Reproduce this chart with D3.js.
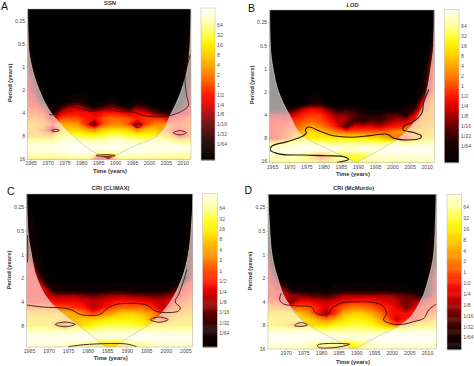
<!DOCTYPE html>
<html>
<head>
<meta charset="utf-8">
<script src="https://cdn.jsdelivr.net/npm/d3@7"></script>
<style>
	body { margin: 0; background: #fff; }
	svg { display: block; font-family: "Liberation Sans", Arial, sans-serif; }
</style>
</head>
<body>
<div id="chart"></div>
<script>
"use strict";
// log2(period) of each grid row, top to bottom
const gridLogPeriods = [-2.6, 0, 1, 1.5, 1.75, 2, 2.25, 2.5, 2.75, 3, 3.25, 3.5, 3.75, 4.1];
const gridYears = [1964, 1966.5, 1969, 1971.5, 1974, 1976.5, 1979, 1981.5, 1984, 1986.5, 1989, 1991.5, 1994, 1996.5, 1999, 2001.5, 2004, 2006.5, 2009, 2012.5];
const gridYearsC = [1964, 1966.5, 1969, 1971.5, 1974, 1976.5, 1979, 1981.5, 1984, 1986.5, 1989, 1991.5, 1994, 1996.5, 1999, 2001.5, 2004, 2007.5];

// log2(power)
const powerSSN = [
	[-8,-8,-8,-8,-8,-8,-8,-8,-8,-8,-8,-8,-8,-8,-8,-8,-8,-8,-8,-8],
	[-3,-8,-8,-8,-8,-8,-8,-8,-8,-8,-8,-8,-8,-8,-8,-8,-8,-8,-8,-5],
	[-2,-4,-8,-8,-8,-8,-8,-8,-8,-8,-8,-8,-8,-8,-8,-8,-8,-8,-8,-3],
	[-1.5,-2,-7,-8,-8,-6.5,-6,-7,-8,-7.5,-7,-8,-8,-7,-8,-8,-8,-8,-7,-2.5],
	[-1,-1,-3,-7,-5.5,-3,-2.5,-4.5,-6,-4.5,-3.5,-5,-7,-4,-5,-7,-8,-8,-6,-2],
	[0,0,-1,-6,-2.5,-1.5,-1.5,-1.5,-2,-1.5,-1.2,-1.5,-2.5,-1.5,-2,-4,-5,-6,-3,-1.5],
	[1,1,0.5,-3,0,0,0,-1,-1.5,0,0.5,0.5,0,-1,-0.5,-0.5,-1,-2,-1,0],
	[2,2,1.5,-0.5,2,2,1.5,-1,-4,0,1,1,0,-4,-0.5,1,1.5,0.5,0,0.5],
	[2,2,0,-5,2.5,3,3,2,1.5,3,3.5,3.5,3,1.5,2.5,3,2,0,-1,0.5],
	[2.5,2.5,2,2,4.5,5,5,4.5,4.5,5,5.5,5.5,5,4.5,4.5,4.5,3,2,-2,1],
	[5,5,5,5,6,6.5,6.5,6.5,6.5,6.5,7,7,6.5,6.5,6,6,6,5,4,4],
	[6.5,6.5,6.5,6.5,7,7.5,7.6,7.6,7.6,7.6,7.6,7.6,7.6,7.5,7,7,7,7,7,6.5],
	[5.5,5.5,5.5,5.5,6,6.5,6.5,6.5,6.5,6,6.5,6.5,6,6,6,6,5.5,5.5,5.5,5.5],
	[3,3,3,3,3,3,3,3.5,-6,-8,-6,3,3,3,3,3,3,3,3,3]
];
const powerLOD = [
	[-8,-8,-8,-8,-8,-8,-8,-8,-8,-8,-8,-8,-8,-8,-8,-8,-8,-8,-8,-8],
	[-8,-8,-8,-8,-8,-8,-8,-8,-8,-8,-8,-8,-8,-8,-8,-8,-8,-8,-8,0],
	[-6,-8,-8,-8,-8,-8,-8,-8,-8,-8,-8,-8,-8,-8,-8,-8,-8,-8,-6,1],
	[-7,-7,-8,-8,-8,-6,-6,-8,-8,-8,-8,-8,-8,-8,-8,-8,-8,-7,-1,2],
	[-7,-6,-6,-5,-2.5,-1.5,-2,-4,-6,-5.5,-6,-7,-8,-8,-8,-7,-6,-5,0,2],
	[-3,-2.5,-3,-2,-1,-0.5,-0.5,-2,-3.5,-3.5,-4.5,-5.5,-6,-5.5,-4.5,-4.5,-6,-2,1,2],
	[-1.5,-1.5,-1.5,-0.5,0,0.5,0,-1,-2.5,-3,-5,-5.5,-4.5,-5,-3.5,-2.5,-2.5,-1,1.5,2],
	[-1.5,-1,-0.5,0,1,2,1,0,-1.5,-5,-2,-2,-2,-2.5,-1.5,-1,-0.5,1,2,2.5],
	[-1,-1,0,1,2.5,3.5,3,2,1,0.5,0.5,0.5,0.5,0.5,1,1.5,2,2,2.5,3],
	[-1.5,-1.5,0,2,3.5,4,4,4,4,4,4,4,3.5,3,2,0.5,-1,1,3,3.5],
	[4,4,5,5.5,6,6,6.5,6,6,6,6,6,6,6,6,6,5,5.5,6,6],
	[6.5,6.5,7,7,7,7.5,7.5,7.5,7.5,7,7,7.5,7.5,7.5,7.5,7.5,7.5,7.5,7.5,7],
	[5.5,5.5,5.5,5.5,4.5,2,-1,1,4.5,5,5,5,5.5,6,6,6,6,6,6,6],
	[4.5,4.5,4.5,4.5,4.5,4,3.5,3.5,3.5,3.5,4,4,4.5,4.5,4.5,4.5,5,5,5,5]
];
const powerClimax = [
	[-8,-8,-8,-8,-8,-8,-8,-8,-8,-8,-8,-8,-8,-8,-8,-8,-8,-8],
	[-2,-7,-8,-8,-8,-8,-8,-8,-8,-8,-8,-8,-8,-8,-8,-8,-8,-3],
	[-1.5,-1.5,-7,-8,-8,-8,-8,-8,-8,-8,-8,-8,-8,-8,-8,-8,-8,-1],
	[-1.5,-1.5,-2,-6.5,-7,-6.5,-7,-7,-7,-6.5,-6.5,-7,-7,-7,-7,-6,-2,0],
	[-1.5,-1.5,-2,-3,-3,-3,-3.5,-4,-3.5,-3,-3,-3.5,-3.5,-4,-4,-3,-1,0.5],
	[-1,-1,-1,-1.5,-1.5,-1.5,-2,-2.5,-2,-1.5,-1,-1,-1.5,-2,-2.5,-1.5,0,1],
	[0.5,0.5,0.5,0,0,-0.5,-1,-3,-1.5,0,0.5,0.5,0.5,-0.5,-3,-0.5,0.5,1.5],
	[2.5,2.5,2.5,2.5,2.5,2,1,-0.5,1,2,3,3,2.5,1.5,-0.5,1,2,2.5],
	[3,3,3,3,2,2.5,3,3,3.5,4,4,4,3.5,2,-1,2,3,3],
	[3.5,3.5,3.5,2,-1,2,3.5,4.5,5,5,5,5,4.5,3.5,3,3.5,3.5,3.5],
	[5.5,5.5,5.5,5.5,5.5,5.5,5.5,6,6.5,6.5,6.5,6.5,6,5.5,5.5,5.5,5.5,5.5],
	[7,7,7,7,7,7.5,7.5,7.5,7.5,7.5,7.5,7.5,7.5,7.5,7,7,7,7],
	[6.5,6.5,6.5,6.5,6,5.5,5,4.5,4,4,4,4.5,5,5.5,6,6,6,6],
	[5,5,5,5,4.5,3.5,2.5,2,1.5,1.5,1.5,2,3,4,5,5,5,5]
];
const powerMcMurdo = [
	[-8,-8,-8,-8,-8,-8,-8,-8,-8,-8,-8,-8,-8,-8,-8,-8,-8,-8,-8,-8],
	[-2,-8,-8,-8,-8,-8,-8,-8,-8,-8,-8,-8,-8,-8,-8,-8,-8,-8,-8,-6],
	[-1.5,-3,-8,-8,-8,-8,-8,-8,-8,-8,-8,-8,-8,-8,-8,-8,-8,-8,-8,-2],
	[-1.5,-1.5,-3,-6,-7,-7,-7,-7.5,-7,-6.5,-6.5,-6.5,-6.5,-6.5,-7,-7,-7,-7.5,-7.5,-2],
	[-1.5,-1.5,-2,-3,-3.5,-4,-4.5,-5,-4,-3,-3,-3,-3,-3,-3,-3.5,-4,-5,-6,-1.5],
	[-0.5,-0.5,-1,-4,-1.5,-1.5,-2,-2.5,-2,-1.5,-1,-1,-1,-1.5,-2,-2.5,-4,-3,-2.5,-1],
	[1.5,1.5,1,0,0.5,0,-1,-2,-1,0.5,1,1,0.5,-0.5,-1,-2,-4,-2,-1,-0.5],
	[3,3,3,3,2.5,1.5,-1,-3.5,-0.5,2,3,3,2,1,-1,-1.5,-1.5,-1,-0.5,0.5],
	[3.5,3.5,3.5,3.5,3.5,3,2,1,2,3.5,4,4,3.5,2,0,-2.5,-1,-1.5,1,2.5],
	[3.5,3.5,3,1.5,0,3,3.5,3.5,4.5,4.5,5,5,4.5,3.5,2,0,1,3,3.5,4],
	[6,6,6,6,6,6,6,6,6,6,6,6,6,6,6,6,6,6,6,6],
	[7.5,7.5,7.5,7.5,7.5,7.5,7.5,7.5,7.5,7.5,7.5,7.5,7.5,7.5,7.5,7.5,7.5,7.5,7.5,7.5],
	[6.5,6.5,6.5,6.5,6.5,6,5,5,5,5,5,5.5,6,6.5,6.5,6.5,6.5,6.5,6.5,6.5],
	[5,5,5,5,4.5,3,2,1,1,1.5,3,4,4.5,5,5,5,5,5,5,5]
];

// cone of influence: year at each of these log2(period) values
const coiLogPeriods = [-2.6, -1, 0, 1, 2, 3, 3.5, 4.05];
const coiLeftSSN = [1964.1, 1964.3, 1965.3, 1967.5, 1971, 1977.5, 1981.5, 1988];
const coiRightSSN = [2012.5, 2012.2, 2011.5, 2009.7, 2006.7, 2002.5, 1995, 1988];
const coiLeftLOD = [1964.3, 1964.5, 1965.3, 1966.9, 1970.1, 1974.8, 1981.5, 1989.5];
const coiRightLOD = [2012.2, 2012, 2011.2, 2010, 2007.7, 2001.8, 1996.5, 1989.5];
const coiLeftClimax = [1964.4, 1964.7, 1965.6, 1967, 1970.4, 1977.6, 1981.5, 1985.8];
const coiRightClimax = [2007, 2006.5, 2005.8, 2004.2, 2001.2, 1995.5, 1990.5, 1985.8];
const coiLeftMcMurdo = [1965, 1965.5, 1966.1, 1967.7, 1970.4, 1976.5, 1982.5, 1989.5];
const coiRightMcMurdo = [2012.6, 2012.3, 2011.9, 2010.5, 2008.1, 2002.5, 1995.8, 1989.5];

// significance lines: [year, log2(period)]
const lineSSN = [[1970.5,2.07],[1972.2,2.07],[1974.2,1.78],[1977.1,1.74],[1980.6,1.85],[1983.5,1.93],[1987.5,1.78],[1990.4,1.93],[1995.4,1.97],[1999.3,2.15],[2002.3,2.17],[2006.2,2.12],[2009.7,1.93],[2011.7,1.68],[2011.2,1.27],[2010.7,0.4],[2012.3,-0.54]];
const blobsSSN = [
	[[1971.2,2.77],[1972.3,2.72],[1973.5,2.77],[1972.3,2.82]],
	[[1984.3,3.86],[1987,3.82],[1990,3.86],[1987,3.91]],
	[[2007.2,2.87],[2009.2,2.78],[2011.1,2.87],[2009.2,2.96]],
	[[1995.4,2.55],[1996.8,2.46],[1998.1,2.55],[1996.8,2.64]],
	[[1982.4,2.48],[1983.5,2.4],[1984.5,2.48],[1983.5,2.56]]
];
const lineLOD = [[1983.9,4.05],[1987.3,3.92],[1985.9,3.8],[1981,3.76],[1974.2,3.73],[1967.4,3.69],[1964.5,3.51],[1965,3.34],[1969.4,3.15],[1973.7,2.93],[1975,2.78],[1974.7,2.64],[1975.7,2.52],[1979.1,2.71],[1982.9,2.9],[1987.8,2.96],[1993.6,2.89],[1998.5,2.83],[2000.4,3],[2004.3,3.08],[2008.2,3],[2008.4,2.9],[2006.2,2.76],[2003.1,2.64],[2003.3,2.49],[2006.2,2.28],[2008.6,1.91],[2009.1,1.48],[2010.6,0.9]];
const blobsLOD = [];
const lineClimax = [[1964.4,2.14],[1968.7,2.23],[1973.8,2.27],[1975.9,2.35],[1978.1,2.54],[1980.6,2.58],[1983.2,2.54],[1985.3,2.25],[1987.5,2.11],[1991.8,2.07],[1995.2,2.15],[1997.3,2.39],[1999.9,2.46],[2003.3,2.39],[2003.7,2.25],[2002.4,2.01],[2003.3,1.69],[2004.4,1.2],[2005.4,0.63]];
const edgeClimax = [[1964.6,0.35],[1964.7,-0.2],[1964.6,-0.8]];
const bottomClimax = [[1975.1,3.9],[1978.9,3.82],[1985.8,3.77],[1990,3.79],[1992.6,3.9]];
const blobsClimax = [
	[[1971.7,2.96],[1974.2,2.86],[1976.8,2.96],[1974.2,3.06]],
	[[1996,2.76],[1998.3,2.65],[2000.6,2.76],[1998.3,2.87]]
];
const lineMcMurdo = [[1968.7,1.65],[1968.3,1.93],[1969.4,2.1],[1972.7,2.18],[1977.5,2.24],[1978.1,2.42],[1979.8,2.57],[1981.9,2.52],[1983.1,2.28],[1985.5,2.07],[1990.2,2.01],[1995,2.04],[1997.7,2.21],[1998.5,2.5],[1997.7,2.78],[2000.6,2.96],[2003.4,2.96],[2006.2,2.85],[2009.1,2.71],[2010.5,2.35],[2012.6,2.11]];
const blobsMcMurdo = [
	[[1972.5,3.02],[1974.2,2.89],[1976.2,2.99],[1974.6,3.05]],
	[[1979.1,3.84],[1988.1,3.81],[1984.5,3.94],[1979.3,3.94]]
];

const periodTicks = [-2, -1, 0, 1, 2, 3, 4];
const periodLabels = ["0.25", "0.5", "1", "2", "4", "8", "16"];
const powerTicks = [6, 5, 4, 3, 2, 1, 0, -1, -2, -3, -4, -5, -6];
const powerLabels = ["64", "32", "16", "8", "4", "2", "1", "1/2", "1/4", "1/8", "1/16", "1/32", "1/64"];
const colorStops = [-8, -6, -5, -4, -3, -2, -1, 0, 1, 2, 3, 4, 5, 6, 7.7];
const colorValues = ["#000000", "#180000", "#3c0000", "#660000", "#a40000", "#e40000", "#ff1a00", "#ff5000", "#ff8000", "#ffa800", "#ffd000", "#fff000", "#ffff40", "#ffffa0", "#fffff6"];

const width = 474, height = 366;
const color = d3.scaleLinear().domain(colorStops).range(colorValues).clamp(true);

// layout of the four panels
const panels = [
	{ letter: "A", title: "SSN", power: powerSSN, years: gridYears, coiLeft: coiLeftSSN, coiRight: coiRightSSN, line: lineSSN, open: [], blobs: blobsSSN,
		yearTicks: d3.range(1965, 2011, 5), logTicks: periodTicks, box: [27.7, 9, 191, 159.3], x: [30.7, 182.7, 1965, 2010], y: [21, 158.7],
		bar: [201, 8, 215, 160], barY: [25, 144], letterPos: [1, 10], titlePos: [110, 5], xTitle: [110, 173], yTitle: [10, 83], lineWidth: 0.8, lineColor: "#3d0c0c" },
	{ letter: "B", title: "LOD", power: powerLOD, years: gridYears, coiLeft: coiLeftLOD, coiRight: coiRightLOD, line: lineLOD, open: [], blobs: blobsLOD,
		yearTicks: d3.range(1965, 2011, 5), logTicks: periodTicks, box: [269.7, 10, 434.3, 162.7], x: [272, 426.7, 1965, 2010], y: [22.3, 161.3],
		bar: [444.3, 9.3, 459, 162.7], barY: [25.7, 145.7], letterPos: [248, 12], titlePos: [352.7, 6.5], xTitle: [353, 175.5], yTitle: [252, 85], lineWidth: 1.1, lineColor: "#241a08" },
	{ letter: "C", title: "CRI (CLIMAX)", power: powerClimax, years: gridYearsC, coiLeft: coiLeftClimax, coiRight: coiRightClimax, line: lineClimax, open: [edgeClimax, bottomClimax], blobs: blobsClimax,
		yearTicks: d3.range(1965, 2006, 5), logTicks: periodTicks.slice(0, 6), box: [26.7, 194, 192.7, 347], x: [29, 185.3, 1965, 2005], y: [207, 349],
		bar: [202.7, 193.7, 217.3, 347], barY: [208, 333], letterPos: [7, 195], titlePos: [110.7, 190], xTitle: [110.7, 360], yTitle: [9, 270], lineWidth: 0.9, lineColor: "#2b140c" },
	{ letter: "D", title: "CRI (McMurdo)", power: powerMcMurdo, years: gridYears, coiLeft: coiLeftMcMurdo, coiRight: coiRightMcMurdo, line: lineMcMurdo, open: [], blobs: blobsMcMurdo,
		yearTicks: d3.range(1970, 2011, 5), logTicks: periodTicks, box: [268, 194.3, 436.3, 349], x: [285.7, 427, 1970, 2010], y: [207.3, 348.7],
		bar: [447, 194.3, 461.3, 349.7], barY: [207, 337.3], letterPos: [244.5, 194], titlePos: [353.7, 190.3], xTitle: [353, 364], yTitle: [249.7, 271], lineWidth: 0.9, lineColor: "#2b140c" }
];

const svg = d3.select("#chart").append("svg")
	.attr("width", width)
	.attr("height", height)
	.attr("viewBox", [0, 0, width, height]);

const defs = svg.append("defs");
defs.append("filter").attr("id", "soft")
	.attr("x", "-5%").attr("y", "-5%").attr("width", "110%").attr("height", "110%")
	.append("feGaussianBlur").attr("stdDeviation", 0.5);

const thresholds = d3.range(-7.75, 7.6, 0.25);

const drawPanel = (p, i) => {
	const [left, top, right, bottom] = p.box;
	const g = svg.append("g");
	const xScale = d3.scaleLinear().domain([p.x[2], p.x[3]]).range([p.x[0], p.x[1]]);
	const yScale = d3.scaleLinear().domain([-2, 4]).range(p.y);

	const clipId = "clip" + p.letter;
	defs.append("clipPath").attr("id", clipId)
		.append("rect").attr("x", left).attr("y", top).attr("width", right - left).attr("height", bottom - top);
	const plot = g.append("g").attr("clip-path", `url(#${clipId})`);
	const heat = plot.append("g").attr("filter", "url(#soft)");

	heat.append("rect")
		.attr("x", left - 3).attr("y", top - 3)
		.attr("width", right - left + 6).attr("height", bottom - top + 6)
		.attr("fill", color(-8));

	// contour coordinates run in grid cells, map them back through years and periods
	const colToX = d3.scaleLinear().domain(d3.range(p.years.length)).range(p.years.map(xScale));
	const rowToY = d3.scaleLinear().domain(d3.range(gridLogPeriods.length)).range(gridLogPeriods.map(yScale));
	const path = d3.geoPath(d3.geoTransform({
		point(x, y) { this.stream.point(colToX(x - 0.5), rowToY(y - 0.5)); }
	}));
	const bands = d3.contours()
		.size([p.years.length, gridLogPeriods.length])
		.thresholds(thresholds)(p.power.flat());
	heat.selectAll("path.band").data(bands).join("path")
		.attr("class", "band")
		.attr("d", path)
		.attr("fill", d => color(d.value + 0.125));

	// washed area outside the cone of influence
	const leftCone = coiLogPeriods.map((v, j) => [p.coiLeft[j], v]);
	const rightCone = coiLogPeriods.map((v, j) => [p.coiRight[j], v]);
	const wash = edge => d3.area()
		.curve(d3.curveMonotoneY)
		.x0(edge)
		.x1(d => xScale(d[0]))
		.y(d => yScale(d[1]));
	const coiLine = d3.line().curve(d3.curveMonotoneY).x(d => xScale(d[0])).y(d => yScale(d[1]));
	plot.append("path").attr("d", wash(left - 2)(leftCone)).attr("fill", "#fff").attr("fill-opacity", 0.6);
	plot.append("path").attr("d", wash(right + 2)(rightCone)).attr("fill", "#fff").attr("fill-opacity", 0.6);
	plot.selectAll("path.coi").data([leftCone, rightCone]).join("path")
		.attr("class", "coi")
		.attr("d", coiLine)
		.attr("fill", "none")
		.attr("stroke", "#c9c9b4")
		.attr("stroke-width", 0.8);

	// significance lines
	const openLine = d3.line().curve(d3.curveCatmullRom).x(d => xScale(d[0])).y(d => yScale(d[1]));
	const closedLine = d3.line().curve(d3.curveCatmullRomClosed).x(d => xScale(d[0])).y(d => yScale(d[1]));
	plot.selectAll("path.sig").data([p.line, ...p.open]).join("path")
		.attr("class", "sig")
		.attr("d", openLine)
		.attr("fill", "none")
		.attr("stroke", p.lineColor)
		.attr("stroke-width", p.lineWidth);
	plot.selectAll("path.blob").data(p.blobs).join("path")
		.attr("class", "blob")
		.attr("d", closedLine)
		.attr("fill", "none")
		.attr("stroke", p.lineColor)
		.attr("stroke-width", p.lineWidth);

	g.append("rect")
		.attr("x", left).attr("y", top)
		.attr("width", right - left).attr("height", bottom - top)
		.attr("fill", "none").attr("stroke", "#aaa").attr("stroke-width", 0.5);

	// axes
	const xAxis = g.append("g")
		.attr("transform", `translate(0,${bottom})`)
		.call(d3.axisBottom(xScale).tickValues(p.yearTicks).tickFormat(d3.format("d")).tickSize(1.5).tickPadding(1));
	const yAxis = g.append("g")
		.attr("transform", `translate(${left},0)`)
		.call(d3.axisLeft(yScale).tickValues(p.logTicks).tickFormat(d => periodLabels[periodTicks.indexOf(d)]).tickSize(1.5).tickPadding(1));
	[xAxis, yAxis].forEach(axis => {
		axis.select(".domain").remove();
		axis.selectAll("line").attr("stroke", "#999").attr("stroke-width", 0.5);
		axis.selectAll("text").attr("fill", "#4a4a4a").attr("font-size", 5.2);
	});

	// colour bar
	const [barLeft, barTop, barRight, barBottom] = p.bar;
	const barScale = d3.scaleLinear().domain([6, -6]).range(p.barY);
	const barValues = d3.range(barScale.invert(barBottom), barScale.invert(barTop), 0.1);
	g.append("g").selectAll("rect").data(barValues).join("rect")
		.attr("x", barLeft)
		.attr("width", barRight - barLeft)
		.attr("y", d => barScale(d + 0.1))
		.attr("height", d => barScale(d) - barScale(d + 0.1) + 0.4)
		.attr("fill", d => color(d));
	g.append("rect")
		.attr("x", barLeft).attr("y", barTop)
		.attr("width", barRight - barLeft).attr("height", barBottom - barTop)
		.attr("fill", "none").attr("stroke", "#c4c4c4").attr("stroke-width", 0.6);
	const barAxis = g.append("g")
		.attr("transform", `translate(${barRight},0)`)
		.call(d3.axisRight(barScale).tickValues(powerTicks).tickFormat(d => powerLabels[powerTicks.indexOf(d)]).tickSize(0).tickPadding(2));
	barAxis.select(".domain").remove();
	barAxis.selectAll("text").attr("fill", "#555").attr("font-size", 5.2);

	// titles
	g.append("text").attr("x", p.letterPos[0]).attr("y", p.letterPos[1])
		.attr("font-size", 10.5).attr("fill", "#111").text(p.letter);
	g.append("text").attr("x", p.titlePos[0]).attr("y", p.titlePos[1])
		.attr("text-anchor", "middle").attr("font-size", 5.8).attr("font-weight", "bold").attr("fill", "#333").text(p.title);
	g.append("text").attr("x", p.xTitle[0]).attr("y", p.xTitle[1])
		.attr("text-anchor", "middle").attr("font-size", 5.8).attr("font-weight", "bold").attr("fill", "#333").text("Time (years)");
	g.append("text").attr("transform", `translate(${p.yTitle[0]},${p.yTitle[1]}) rotate(-90)`)
		.attr("text-anchor", "middle").attr("dy", "0.35em").attr("font-size", 5.8).attr("font-weight", "bold").attr("fill", "#333").text("Period (years)");
};

panels.forEach(drawPanel);
</script>
</body>
</html>
